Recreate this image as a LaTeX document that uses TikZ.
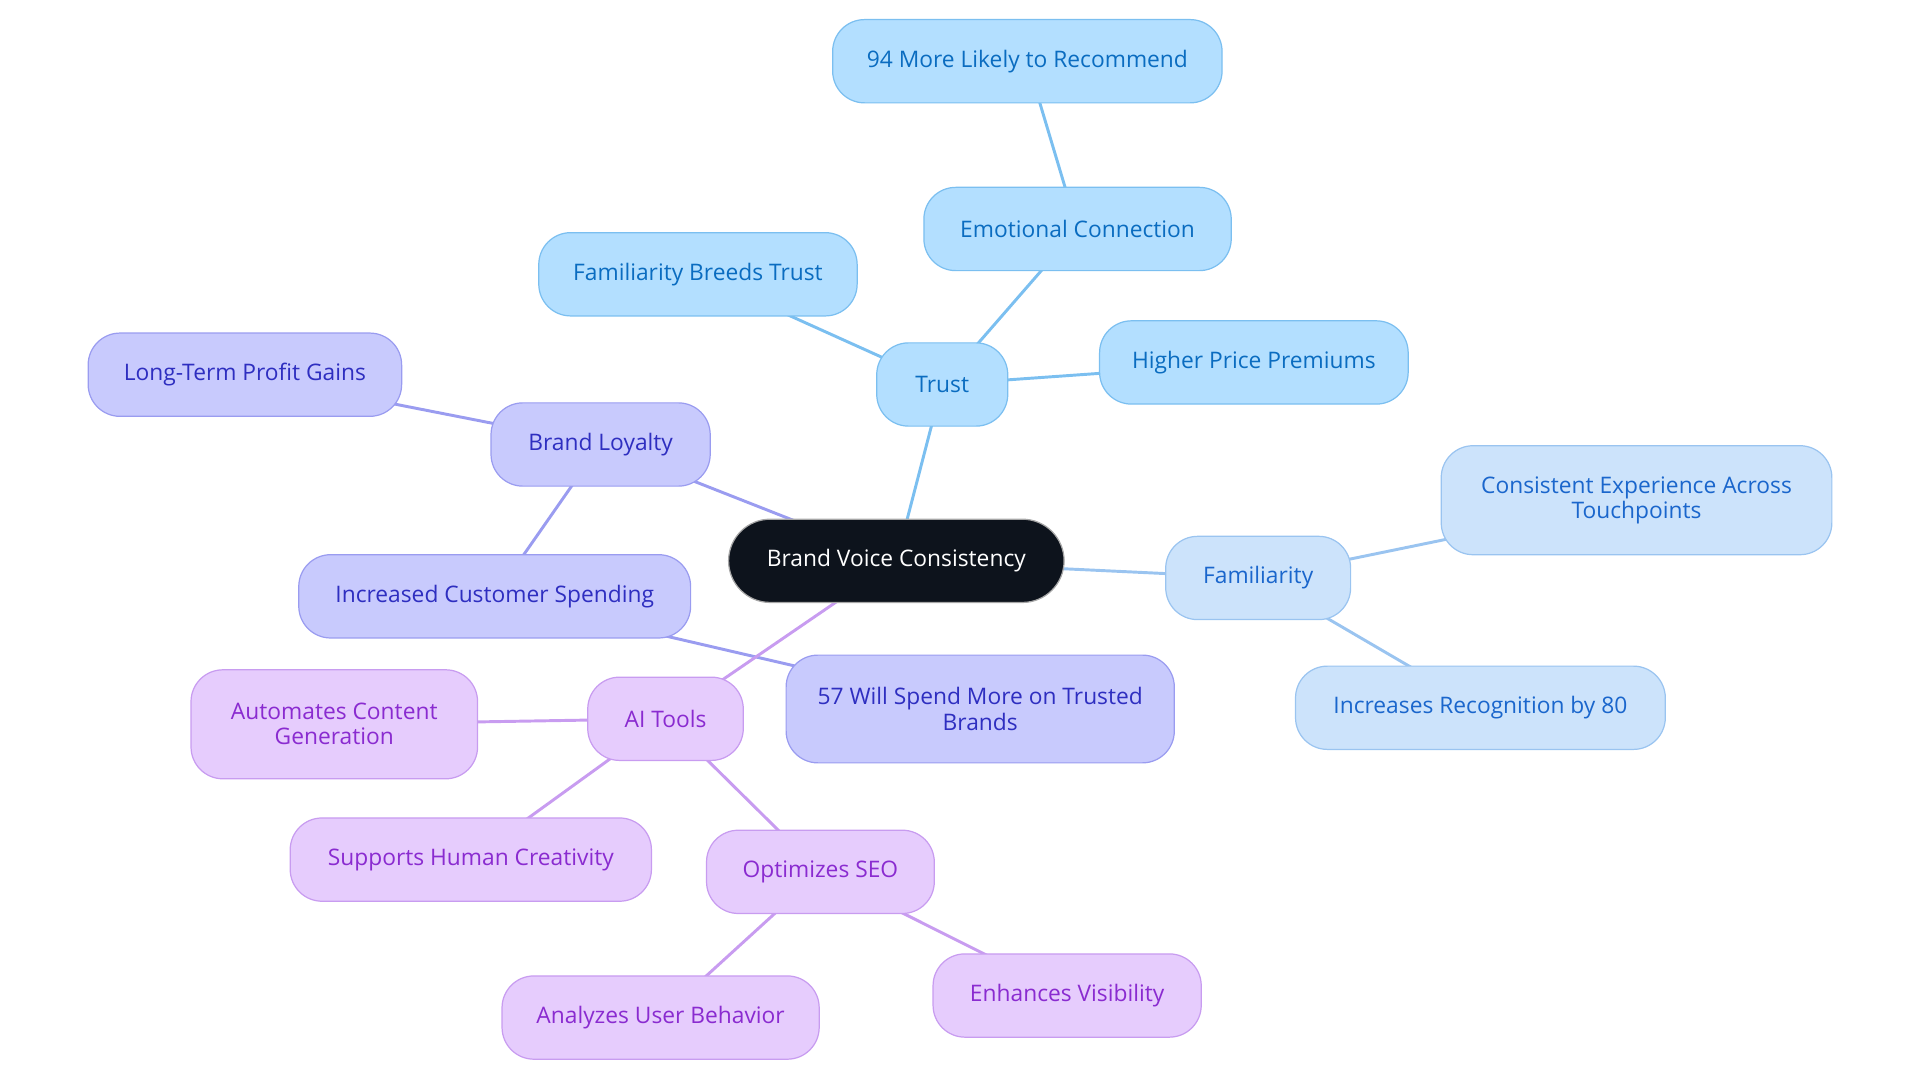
\documentclass[tikz,border=0pt]{standalone}
\usepackage{fontspec}
\setmainfont{Open Sans}
\usetikzlibrary{backgrounds}
\definecolor{cFill}{HTML}{0D131C}
\definecolor{tFill}{HTML}{B3DFFF}\definecolor{tLine}{HTML}{7BBFF0}\definecolor{tText}{HTML}{0A6CC0}
\definecolor{fFill}{HTML}{CCE3FB}\definecolor{fLine}{HTML}{9AC4F0}\definecolor{fText}{HTML}{1A66CC}
\definecolor{bFill}{HTML}{C8CAFD}\definecolor{bLine}{HTML}{9A9CF0}\definecolor{bText}{HTML}{2E2EC0}
\definecolor{aFill}{HTML}{E6CCFD}\definecolor{aLine}{HTML}{C89CF0}\definecolor{aText}{HTML}{8A2BD0}
\tikzset{
  box/.style={draw, line width=1pt, rounded corners=26pt, align=center, inner sep=0pt,
    font=\fontsize{18.6}{20.5}\selectfont},
  cbox/.style={box, fill=cFill, draw=gray!70, text=white, rounded corners=34pt},
  tbox/.style={box, fill=tFill, draw=tLine, text=tText},
  fbox/.style={box, fill=fFill, draw=fLine, text=fText},
  bbox/.style={box, fill=bFill, draw=bLine, text=bText},
  abox/.style={box, fill=aFill, draw=aLine, text=aText},
  tedge/.style={draw=tLine, line width=2.4pt},
  fedge/.style={draw=fLine, line width=2.4pt},
  bedge/.style={draw=bLine, line width=2.4pt},
  aedge/.style={draw=aLine, line width=2.4pt},
}
\begin{document}
\begin{tikzpicture}[x=1pt,y=-1pt]
\useasboundingbox (0,0) rectangle (1568,884);
\node[cbox, minimum width=274pt, minimum height=68pt] (c) at (732,458) {Brand Voice Consistency};
% Trust branch
\node[tbox, minimum width=107pt, minimum height=68pt] (trust) at (769.5,314) {Trust};
\node[tbox, minimum width=318pt, minimum height=68pt] (rec) at (839,50) {94 More Likely to Recommend};
\node[tbox, minimum width=251pt, minimum height=68pt] (emo) at (880,187) {Emotional Connection};
\node[tbox, minimum width=260pt, minimum height=68pt] (fbt) at (570,224) {Familiarity Breeds Trust};
\node[tbox, minimum width=252pt, minimum height=68pt] (hpp) at (1024,296) {Higher Price Premiums};
% Familiarity branch
\node[fbox, minimum width=151pt, minimum height=68pt] (fam) at (1027.5,472) {Familiarity};
\node[fbox, minimum width=319pt, minimum height=89pt] (cons) at (1336.5,408.5) {Consistent Experience Across\\Touchpoints};
\node[fbox, minimum width=302pt, minimum height=68pt] (recog) at (1209,578) {Increases Recognition by 80};
% Brand loyalty branch
\node[bbox, minimum width=179pt, minimum height=68pt] (loy) at (490.5,363) {Brand Loyalty};
\node[bbox, minimum width=256pt, minimum height=68pt] (ltp) at (200,306) {Long-Term Profit Gains};
\node[bbox, minimum width=320pt, minimum height=68pt] (ics) at (404,487) {Increased Customer Spending};
\node[bbox, minimum width=317pt, minimum height=88pt] (spend) at (800.5,579) {57 Will Spend More on Trusted\\Brands};
% AI tools branch
\node[abox, minimum width=127pt, minimum height=68pt] (ai) at (543.5,587) {AI Tools};
\node[abox, minimum width=234pt, minimum height=89pt] (auto) at (273,591.5) {Automates Content\\Generation};
\node[abox, minimum width=295pt, minimum height=68pt] (shc) at (384.5,702) {Supports Human Creativity};
\node[abox, minimum width=186pt, minimum height=68pt] (seo) at (670,712) {Optimizes SEO};
\node[abox, minimum width=259pt, minimum height=68pt] (aub) at (539.5,831) {Analyzes User Behavior};
\node[abox, minimum width=219pt, minimum height=68pt] (vis) at (871.5,813) {Enhances Visibility};
\begin{scope}[on background layer]
\draw[tedge] (c.center) -- (trust.center);
\draw[tedge] (trust.center) -- (emo.center);
\draw[tedge] (emo.center) -- (rec.center);
\draw[tedge] (trust.center) -- (fbt.center);
\draw[tedge] (trust.center) -- (hpp.center);
\draw[fedge] (c.center) -- (fam.center);
\draw[fedge] (fam.center) -- (cons.center);
\draw[fedge] (fam.center) -- (recog.center);
\draw[bedge] (c.center) -- (loy.center);
\draw[bedge] (loy.center) -- (ltp.center);
\draw[bedge] (loy.center) -- (ics.center);
\draw[bedge] (ics.center) -- (spend.center);
\draw[aedge] (c.center) -- (ai.center);
\draw[aedge] (ai.center) -- (auto.center);
\draw[aedge] (ai.center) -- (shc.center);
\draw[aedge] (ai.center) -- (seo.center);
\draw[aedge] (seo.center) -- (aub.center);
\draw[aedge] (seo.center) -- (vis.center);
\end{scope}
\end{tikzpicture}
\end{document}
